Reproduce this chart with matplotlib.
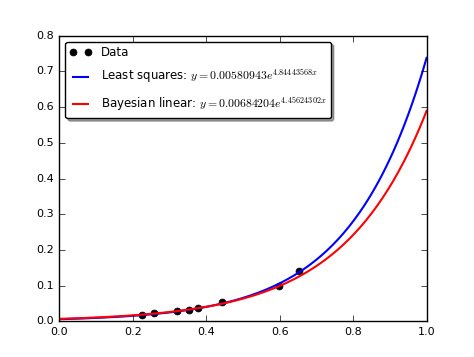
import numpy as np
import matplotlib
matplotlib.use("Agg")
import matplotlib.pyplot as plt

plt.style.use("classic")
plt.rcParams["mathtext.fontset"] = "cm"

# data points
x_data = [0.224, 0.257, 0.320, 0.354, 0.378, 0.444, 0.599, 0.653]
y_data = [0.018, 0.022, 0.029, 0.033, 0.038, 0.053, 0.099, 0.140]

# fitted model parameters (from legend)
ls_a, ls_b = 0.00580943, 4.84443568
bl_a, bl_b = 0.00684204, 4.45624302

fig = plt.figure(figsize=(4.74, 3.57), dpi=100, facecolor="white")
ax = fig.add_axes([0.125, 0.1, 0.775, 0.8])

xs = np.linspace(0, 1, 200)
ax.plot(x_data, y_data, "ko", markersize=5, label="Data")
ax.plot(xs, ls_a * np.exp(ls_b * xs), "b-", lw=1.5,
        label=r"Least squares: $y = 0.00580943 e^{4.84443568 x}$")
ax.plot(xs, bl_a * np.exp(bl_b * xs), "r-", lw=1.5,
        label=r"Bayesian linear: $y = 0.00684204 e^{4.45624302 x}$")

ax.set_xlim(0, 1)
ax.set_ylim(0, 0.8)
ax.set_xticks(np.arange(0, 1.01, 0.2))
ax.set_yticks(np.arange(0, 0.81, 0.1))
ax.tick_params(labelsize=8)

leg = ax.legend(loc="upper left", numpoints=2, fancybox=True, shadow=True,
                fontsize=8.5, handlelength=1.8, labelspacing=0.75)

fig.savefig("out.png", dpi=100, facecolor="white")
